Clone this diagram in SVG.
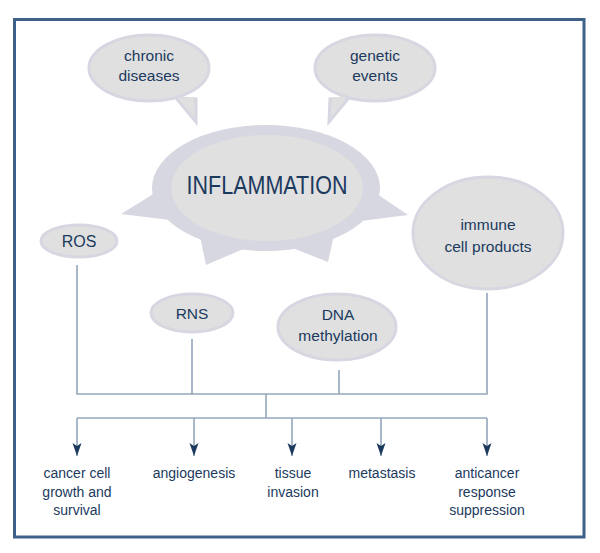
<svg xmlns="http://www.w3.org/2000/svg" width="600" height="553" viewBox="0 0 600 553">
<defs>
<style>
.bub{fill:#e0e0e0;stroke:#d6d7e1;stroke-width:3}
.t{font-family:"Liberation Sans",Arial,sans-serif;fill:#1b3a5e;text-anchor:middle}
.bt{font-size:15.5px}
.lt{font-size:14px}
.ln{fill:none;stroke:#94a6bc;stroke-width:1.6}
</style>
<marker id="ah" viewBox="0 -5 14 10" refX="13" refY="0" markerWidth="14" markerHeight="10" markerUnits="userSpaceOnUse" orient="auto">
<path d="M0,-4.5 L13,0 L0,4.5 L3,0 Z" fill="#1b3a5e"/>
</marker>
</defs>
<rect width="600" height="553" fill="#ffffff"/>
<rect x="14.5" y="19.5" width="569.5" height="517.5" fill="none" stroke="#3e6189" stroke-width="3"/>

<g id="chronic">
<path class="bub" d="M176,98 L196,122 L196,99 Z"/>
<ellipse class="bub" cx="149" cy="68" rx="60" ry="33"/>
<path d="M178,98 L194,117 L194,97 Z" fill="#e0e0e0"/>
<text class="t bt" x="149" y="61">chronic</text>
<text class="t bt" x="149" y="81">diseases</text>
</g>

<g id="genetic">
<path class="bub" d="M330,99 L329,122 L349,98 Z"/>
<ellipse class="bub" cx="375" cy="68" rx="60" ry="33"/>
<path d="M332,97 L331,117 L346,97 Z" fill="#e0e0e0"/>
<text class="t bt" x="375" y="61">genetic</text>
<text class="t bt" x="375" y="81">events</text>
</g>

<g id="inflammation">
<ellipse cx="266" cy="188" rx="114" ry="63" fill="#d6d7e1"/>
<path d="M155,193 L121,214 L170,220 Z" fill="#d6d7e1"/>
<path d="M377,194 L408,215 L361,221 Z" fill="#d6d7e1"/>
<path d="M200,236 L206,265 L248,247 Z" fill="#d6d7e1"/>
<path d="M290,247 L328,262 L334,235 Z" fill="#d6d7e1"/>
<ellipse cx="267" cy="188" rx="96" ry="53" fill="#e0e0e0"/>
<text class="t" x="267" y="194" font-size="25" textLength="161" lengthAdjust="spacingAndGlyphs">INFLAMMATION</text>
</g>

<g id="ros">
<ellipse class="bub" cx="79" cy="241" rx="38" ry="16"/>
<text class="t" x="79" y="247" font-size="16">ROS</text>
</g>

<g id="immune">
<ellipse class="bub" cx="488" cy="233" rx="75" ry="56"/>
<text class="t bt" x="488" y="230">immune</text>
<text class="t bt" x="488" y="252">cell products</text>
</g>

<g id="rns">
<ellipse class="bub" cx="192" cy="313" rx="41" ry="19"/>
<text class="t bt" x="192" y="319">RNS</text>
</g>

<g id="dna">
<ellipse class="bub" cx="337" cy="327" rx="59" ry="33"/>
<text class="t bt" x="338" y="320">DNA</text>
<text class="t bt" x="338" y="341">methylation</text>
</g>

<g id="connectors">
<path class="ln" d="M77,265 V394 H487 V293"/>
<path class="ln" d="M192,339 V394"/>
<path class="ln" d="M339,370 V394"/>
<path class="ln" d="M266,394 V418"/>
<path class="ln" d="M77,418 H487"/>
<path class="ln" d="M77,418 V456" marker-end="url(#ah)"/>
<path class="ln" d="M194,418 V456" marker-end="url(#ah)"/>
<path class="ln" d="M292,418 V456" marker-end="url(#ah)"/>
<path class="ln" d="M381,418 V456" marker-end="url(#ah)"/>
<path class="ln" d="M487,418 V456" marker-end="url(#ah)"/>
</g>

<g id="growth">
<text class="t lt" x="77" y="478">cancer cell</text>
<text class="t lt" x="77" y="497">growth and</text>
<text class="t lt" x="77" y="515">survival</text>
</g>
<g id="angiogenesis">
<text class="t lt" x="194" y="478">angiogenesis</text>
</g>
<g id="invasion">
<text class="t lt" x="293" y="478">tissue</text>
<text class="t lt" x="293" y="497">invasion</text>
</g>
<g id="metastasis">
<text class="t lt" x="382" y="478">metastasis</text>
</g>
<g id="suppression">
<text class="t lt" x="487" y="478">anticancer</text>
<text class="t lt" x="487" y="497">response</text>
<text class="t lt" x="487" y="515">suppression</text>
</g>
</svg>
